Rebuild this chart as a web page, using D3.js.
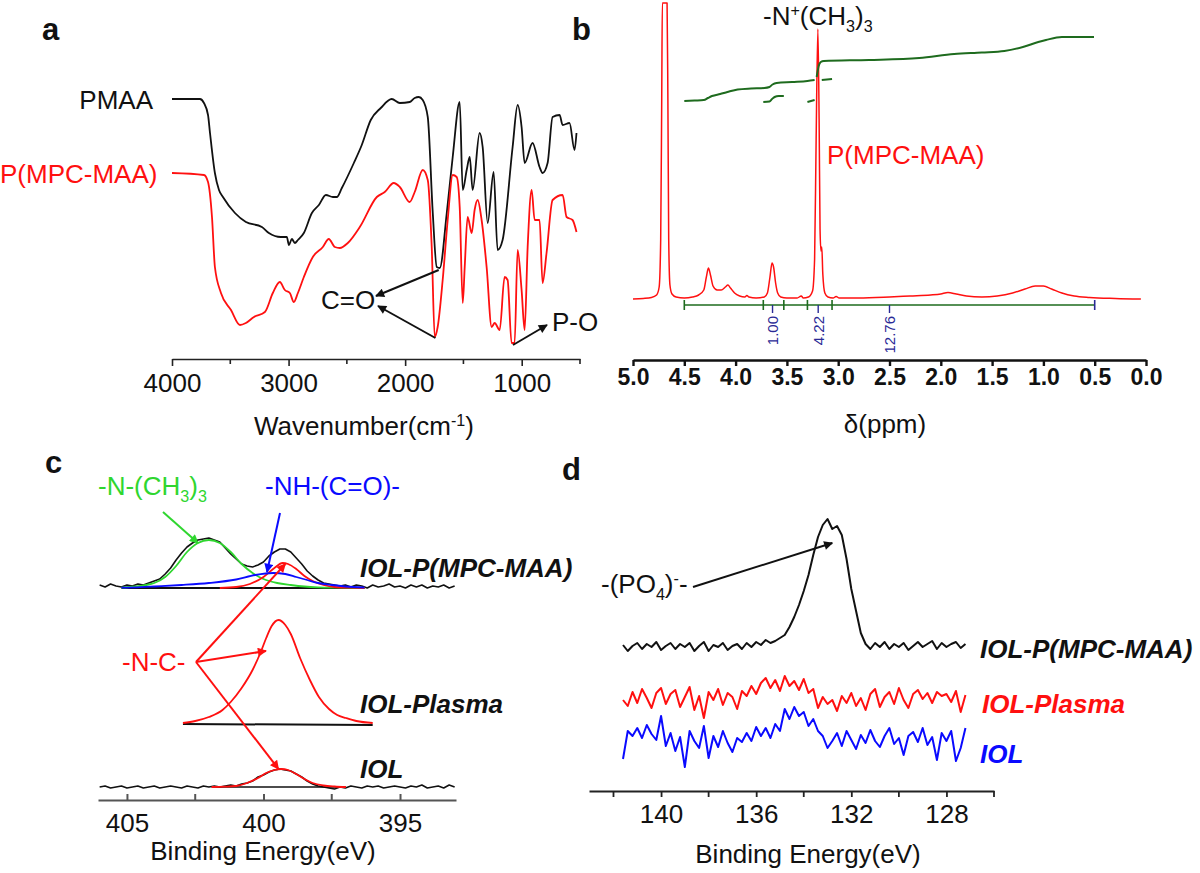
<!DOCTYPE html>
<html>
<head>
<meta charset="utf-8">
<style>
body { margin: 0; background: #fff; }
svg { display: block; background: #fff; }
</style>
</head>
<body>
<svg width="1200" height="873"></svg>
<script src="https://d3js.org/d3.v7.min.js"></script>
<script>
// ---------- data ----------

// a: FTIR, [wavenumber cm-1, transmittance a.u.]
var a_ticks = [4000, 3000, 2000, 1000],
    a_minor = [3500, 2500, 1500, 500];
var a_pmaa = [[4000,261],[3760,261],[3726,257],[3691,245],[3674,227],[3632,187],[3597,170],[3563,163],[3460,147],[3366,138],[3229,133],[3169,127],[3066,123],[3015,123],[2997,115],[2972,121],[2946,117],[2920,120],[2869,127],[2800,147],[2740,155],[2680,165],[2620,163],[2586,163],[2543,172],[2440,197],[2372,215],[2295,240],[2209,252],[2115,261],[2046,257],[1960,258],[1918,262],[1883,263],[1849,260],[1806,243],[1763,147],[1729,93],[1703,92],[1643,147],[1592,203],[1532,258],[1506,170],[1472,190],[1446,203],[1421,170],[1361,227],[1335,213],[1292,137],[1241,188],[1207,110],[1164,120],[1078,213],[1035,255],[1001,233],[975,197],[907,217],[847,193],[821,187],[778,197],[735,243],[675,245],[649,235],[590,237],[547,210],[530,227]];
var a_pmpc = [[4000,187],[3726,185],[3691,178],[3657,143],[3632,93],[3580,67],[3494,50],[3417,35],[3366,37],[3297,43],[3203,48],[3135,67],[3075,78],[3032,70],[2989,67],[2955,58],[2920,67],[2869,83],[2792,103],[2706,113],[2655,121],[2603,113],[2560,112],[2492,117],[2389,133],[2243,163],[2175,168],[2098,177],[2046,173],[1961,158],[1918,168],[1849,190],[1806,180],[1772,113],[1746,23],[1721,33],[1678,80],[1635,140],[1592,185],[1558,183],[1532,153],[1506,57],[1489,93],[1464,143],[1429,127],[1404,150],[1378,160],[1344,140],[1301,93],[1258,33],[1232,37],[1189,30],[1147,83],[1121,80],[1087,17],[1061,17],[1035,110],[1001,70],[975,30],[949,113],[915,170],[889,140],[847,140],[821,77],[787,107],[735,160],[649,165],[615,143],[564,140],[530,128]];

// b: 1H NMR, [ppm, intensity a.u.]
var b_ticks = [5.0, 4.5, 4.0, 3.5, 3.0, 2.5, 2.0, 1.5, 1.0, 0.5, 0.0];
var b_spec = [[5.00,0],[4.90,0.5],[4.82,1.5],[4.77,4],[4.745,12],[4.73,60],[4.72,200],[4.714,296],[4.668,296],[4.66,200],[4.652,60],[4.64,14],[4.62,5],[4.58,2],[4.50,1],[4.42,2],[4.36,4],[4.31,9],[4.285,22],[4.265,31],[4.245,24],[4.22,13],[4.18,9],[4.14,9],[4.10,12],[4.075,14],[4.05,11],[4.01,6],[3.96,3],[3.91,2],[3.89,3.5],[3.87,2],[3.80,1],[3.72,2],[3.69,6],[3.665,22],[3.645,36],[3.63,32],[3.61,16],[3.59,6],[3.56,2],[3.50,1],[3.40,1],[3.36,3],[3.34,1],[3.29,2],[3.25,8],[3.23,40],[3.215,160],[3.198,270],[3.186,180],[3.177,70],[3.168,48],[3.16,52],[3.15,25],[3.13,6],[3.10,2],[3.05,1],[3.02,2.5],[2.99,1],[2.80,1],[2.50,2],[2.30,3],[2.10,4],[2.00,5],[1.93,6.5],[1.85,5],[1.75,3],[1.60,2],[1.45,3],[1.30,6],[1.18,10],[1.08,13],[1.00,13],[0.92,10],[0.82,6],[0.70,3],[0.55,1.5],[0.30,0.5],[0.05,0]];
var b_int_top = [[3.21,222],[3.19,233],[3.17,237],[3.14,238],[2.70,239],[2.21,241],[1.87,245],[1.60,246.5],[1.38,248],[1.20,252],[1.05,257],[0.975,259],[0.82,262],[0.507,262]];
var b_int_mid = [[4.50,198],[4.40,198.5],[4.31,199],[4.27,201],[4.23,203],[4.15,205],[4.08,207],[3.98,209.5],[3.85,210.5],[3.72,211],[3.67,212],[3.64,214.5],[3.60,216],[3.45,217],[3.30,218],[3.23,219]];
var b_int_mid2 = [[3.16,219],[3.06,220]];
var b_int_s1 = [[3.73,197],[3.67,197.5],[3.645,200],[3.62,202],[3.58,203],[3.53,203]];
var b_int_s2 = [[3.30,197],[3.23,199]];
var b_bar_ends = [4.5, 3.73, 3.53, 3.30, 3.06],
    b_bar_last = 0.5,
    b_int_pos = [3.64, 3.195, 2.5],
    b_int_vals = ["1.00", "4.22", "12.76"];

// c: N1s XPS, [binding energy eV, counts a.u.]
var c_ticks = [405, 400, 395],
    c_minor = [402.5, 397.5];
var c_top_raw = [[406.0,1],[405.8,-1],[405.6,2],[405.4,0],[405.2,-1],[405.0,1],[404.8,0],[404.6,2],[404.4,1],[404.2,3],[404.0,5],[403.8,7],[403.6,12],[403.4,18],[403.2,26],[403.0,33],[402.8,39],[402.6,43],[402.4,46],[402.2,47],[402.0,48],[401.8,46],[401.6,44],[401.4,38],[401.2,32],[401.0,27],[400.8,22],[400.6,20],[400.4,19],[400.2,21],[400.0,24],[399.8,30],[399.6,34],[399.4,37],[399.2,37],[399.0,34],[398.8,28],[398.6,22],[398.4,15],[398.2,10],[398.0,6],[397.8,3],[397.6,2],[397.4,1],[397.2,0],[397.0,1],[396.8,-1],[396.6,1],[396.4,0],[396.2,-2],[396.0,1],[395.8,-1],[395.6,0],[395.4,2],[395.2,-1],[395.0,0],[394.8,-2],[394.6,1],[394.4,-1],[394.2,1],[394.0,-2],[393.8,0],[393.6,-1],[393.4,1],[393.2,-2],[393.0,0]];
var c_green = [[405.2,0.3],[404.7,1.5],[404.3,3],[404.0,5],[403.6,11],[403.2,22],[402.8,36],[402.4,45],[402.0,48],[401.6,45],[401.2,36],[400.8,24],[400.4,15],[400.0,9],[399.5,5],[399.0,3],[398.5,1.5],[398.0,0.7],[397.3,0.3],[396.3,0]];
var c_blue = [[405.2,0.3],[404.5,0.8],[404.0,1.5],[403.0,3],[402.0,5],[401.0,8.5],[400.3,13],[399.65,15],[399.2,14],[398.8,11],[398.4,8],[398.0,5],[397.5,3],[397.0,1.5],[396.3,0.5]];
var c_red_top = [[401.6,0],[401.0,1],[400.5,4],[400.0,11],[399.6,20],[399.3,25],[399.1,24],[398.8,19],[398.5,12],[398.2,7],[397.8,3],[397.4,1],[396.8,0.3],[396.3,0]];
var c_top_base = [[405.2,0],[396.3,0]];
var c_plasma = [[402.95,1],[402.5,3],[402.0,7],[401.5,14],[401.2,22],[400.8,36],[400.4,54],[400.1,72],[399.9,86],[399.7,98],[399.45,104],[399.2,99],[399.0,90],[398.66,66],[398.3,44],[397.97,27],[397.6,15],[397.3,9],[396.98,6],[396.6,3],[396.0,1]];
var c_plasma_base = [[402.95,0],[396.0,-1]];
var c_bot_raw = [[406.0,0],[405.8,1],[405.6,-1],[405.4,0],[405.2,1],[405.0,-1],[404.8,0],[404.6,1],[404.4,-1],[404.2,0],[404.0,1],[403.8,-1],[403.6,0],[403.4,1],[403.2,0],[403.0,-1],[402.8,1],[402.6,0],[402.4,-1],[402.2,1],[402.0,0],[401.8,1],[401.6,0],[401.4,1],[401.2,2],[401.0,1],[400.8,3],[400.6,4],[400.4,6],[400.2,10],[400.0,12],[399.8,15],[399.6,17],[399.4,18],[399.2,17],[399.0,16],[398.8,13],[398.6,10],[398.4,6],[398.2,3],[398.0,1],[397.8,0],[397.6,-1],[397.4,-2],[397.2,0],[397.0,-1],[396.8,1],[396.6,0],[396.4,-1],[396.2,1],[396.0,0],[395.8,1],[395.6,-1],[395.4,0],[395.2,1],[395.0,0],[394.8,-1],[394.6,1],[394.4,0],[394.2,2],[394.0,-1],[393.8,0],[393.6,1],[393.4,-1],[393.2,2],[393.0,0]];
var c_red_bot = [[401.9,0],[401.4,0.3],[401.0,1],[400.6,4],[400.2,9],[399.9,14],[399.6,17],[399.35,18],[399.1,17],[398.8,13],[398.5,8],[398.2,4],[397.8,1.5],[397.4,0.5],[396.98,0]];
var c_bot_base = [[401.9,0],[396.98,0]];
var c_offsets = { top: 212, raw: 214, mid: 76, bot: 13 };

// d: P2p XPS, [binding energy eV, counts a.u.]
var d_ticks = [140, 136, 132, 128],
    d_minor = [142, 138, 134, 130, 126];
var d_black = [[141.6,2],[141.4,-4],[141.2,1],[141.0,4],[140.8,-2],[140.6,3],[140.4,0],[140.2,5],[140.0,-3],[139.8,1],[139.6,4],[139.4,-2],[139.2,3],[139.0,0],[138.8,4],[138.6,-4],[138.4,1],[138.2,5],[138.0,-4],[137.8,2],[137.6,0],[137.4,4],[137.2,-3],[137.0,1],[136.8,3],[136.6,-2],[136.4,4],[136.2,0],[136.0,5],[135.8,2],[135.6,7],[135.4,4],[135.2,6],[135.0,9],[134.8,12],[134.6,20],[134.4,30],[134.2,42],[134.0,56],[133.8,72],[133.6,92],[133.4,110],[133.2,122],[133.0,128],[132.8,118],[132.6,121],[132.4,112],[132.2,88],[132.0,58],[131.8,36],[131.6,14],[131.4,3],[131.2,-2],[131.0,4],[130.8,0],[130.6,5],[130.4,-2],[130.2,3],[130.0,0],[129.8,4],[129.6,-3],[129.4,1],[129.2,5],[129.0,0],[128.8,3],[128.6,6],[128.4,-2],[128.2,4],[128.0,0],[127.8,3],[127.6,5],[127.4,-1],[127.2,3]];
var d_red = [[141.6,0],[141.4,-6],[141.2,8],[141.0,-3],[140.8,11],[140.6,2],[140.4,-8],[140.2,7],[140.0,12],[139.8,-4],[139.6,6],[139.4,10],[139.2,-7],[139.0,3],[138.8,13],[138.6,-10],[138.4,4],[138.2,-18],[138.0,8],[137.8,0],[137.6,11],[137.4,-5],[137.2,7],[137.0,3],[136.8,-9],[136.6,9],[136.4,4],[136.2,14],[136.0,6],[135.8,17],[135.6,22],[135.4,12],[135.2,20],[135.0,9],[134.8,24],[134.6,14],[134.4,19],[134.2,10],[134.0,21],[133.8,7],[133.6,11],[133.4,-8],[133.2,3],[133.0,-4],[132.8,0],[132.6,-11],[132.4,4],[132.2,-3],[132.0,7],[131.8,-6],[131.6,2],[131.4,-10],[131.2,6],[131.0,11],[130.8,-7],[130.6,3],[130.4,8],[130.2,-4],[130.0,12],[129.8,0],[129.6,-8],[129.4,6],[129.2,10],[129.0,1],[128.8,7],[128.6,-3],[128.4,8],[128.2,4],[128.0,6],[127.8,-2],[127.6,9],[127.4,-12],[127.2,5]];
var d_blue = [[141.6,-16],[141.4,12],[141.2,7],[141.0,15],[140.8,5],[140.6,18],[140.4,9],[140.2,3],[140.0,27],[139.8,-3],[139.6,10],[139.4,-8],[139.2,6],[139.0,-24],[138.8,12],[138.6,2],[138.4,-5],[138.2,17],[138.0,-15],[137.8,7],[137.6,-4],[137.4,12],[137.2,0],[137.0,-9],[136.8,5],[136.6,1],[136.4,10],[136.2,2],[136.0,16],[135.8,7],[135.6,15],[135.4,5],[135.2,19],[135.0,12],[134.8,34],[134.6,24],[134.4,36],[134.2,27],[134.0,31],[133.8,17],[133.6,24],[133.4,12],[133.2,7],[133.0,-5],[132.8,2],[132.6,10],[132.4,-3],[132.2,12],[132.0,3],[131.8,-6],[131.6,8],[131.4,0],[131.2,13],[131.0,2],[130.8,-4],[130.6,7],[130.4,15],[130.2,-1],[130.0,5],[129.8,-12],[129.6,7],[129.4,11],[129.2,1],[129.0,15],[128.8,-2],[128.6,6],[128.4,-17],[128.2,10],[128.0,2],[127.8,12],[127.6,-18],[127.4,-5],[127.2,15]];
var d_offsets = { black: 144, red: 91, blue: 48 };

// ---------- drawing ----------
var FONT = '"Liberation Sans", Arial, Helvetica, sans-serif';
var RED = "#ff1010", BLUE = "#0a0aff", GREEN = "#2fd62f", DKGREEN = "#1e6b1e", NAVY = "#2a2a96";

var svg = d3.select("svg").attr("font-family", FONT);
var defs = svg.append("defs");

function marker(id, color) {
  defs.append("marker").attr("id", id)
      .attr("viewBox", "0 0 10 10").attr("refX", 9).attr("refY", 5)
      .attr("markerWidth", 13).attr("markerHeight", 9)
      .attr("markerUnits", "userSpaceOnUse").attr("orient", "auto")
    .append("path").attr("d", "M0,0L10,5L0,10z").attr("fill", color);
}
marker("ah-black", "#111");
marker("ah-red", RED);
marker("ah-green", GREEN);
marker("ah-blue", BLUE);

function arrow(x1, y1, x2, y2, color, id) {
  svg.append("line")
      .attr("x1", x1).attr("y1", y1).attr("x2", x2).attr("y2", y2)
      .attr("stroke", color).attr("stroke-width", 2)
      .attr("marker-end", "url(#" + id + ")");
}

// text with sub/superscripts: parts are strings or [string, "sub"|"sup"]
function label(x, y, parts, o) {
  o = o || {};
  var size = o.size || 26;
  var t = svg.append("text").attr("x", x).attr("y", y)
      .attr("font-size", size).attr("fill", o.color || "#111")
      .attr("font-weight", o.weight || null).attr("font-style", o.style || null)
      .attr("text-anchor", o.anchor || "start");
  var shift = 0;
  parts.forEach(function(p) {
    var s = typeof p === "string" ? p : p[0],
        kind = typeof p === "string" ? null : p[1];
    var target = kind === "sup" ? -0.36 : kind === "sub" ? 0.26 : 0;
    var ts = t.append("tspan").text(s);
    if (target !== shift) ts.attr("dy", (target - shift) * size);
    if (kind) ts.attr("font-size", size * 0.62);
    shift = target;
  });
  return t;
}

function axis(scale, y, o) {
  var g = svg.append("g").attr("transform", "translate(0," + y + ")");
  g.call(d3.axisBottom(scale).tickValues(o.ticks).tickSize(o.tick)
      .tickSizeOuter(0).tickFormat(o.fmt));
  g.attr("font-family", FONT).attr("font-size", o.fontSize || 26);
  g.select(".domain").attr("stroke", o.color).attr("stroke-width", o.width);
  g.selectAll(".tick line").attr("stroke", o.color).attr("stroke-width", o.width);
  g.selectAll(".tick text").attr("y", o.textY).attr("dy", null)
      .attr("fill", "#111").attr("font-weight", o.bold ? "bold" : null);
  if (o.minor) {
    g.selectAll(".minor").data(o.minor).join("line").attr("class", "minor")
        .attr("x1", scale).attr("x2", scale)
        .attr("y1", 0).attr("y2", o.minorTick)
        .attr("stroke", o.color).attr("stroke-width", o.width);
  }
  return g;
}

function trace(xs, ys, data, color, width, curve, offset) {
  var off = offset || 0;
  var line = d3.line()
      .x(function(d) { return xs(d[0]); })
      .y(function(d) { return ys(d[1] + off); })
      .curve(curve || d3.curveLinear);
  svg.append("path").datum(data)
      .attr("d", line).attr("fill", "none")
      .attr("stroke", color).attr("stroke-width", width)
      .attr("stroke-linejoin", "round");
}

// panel letters
label(42, 40, ["a"], { size: 31, weight: "bold" });
label(572, 40, ["b"], { size: 31, weight: "bold" });
label(45, 473, ["c"], { size: 31, weight: "bold" });
label(562, 480, ["d"], { size: 31, weight: "bold" });

// ----- a -----
var xA = d3.scaleLinear().domain([4000, 500]).range([172, 580]);
var yA = d3.scaleLinear().domain([0, 300]).range([360, 60]);
axis(xA, 359, { ticks: a_ticks, tick: 7, minor: a_minor, minorTick: 5,
  fmt: d3.format("d"), color: "#222", width: 1.6, textY: 33 });
trace(xA, yA, a_pmaa, "#111", 1.8, d3.curveMonotoneX);
trace(xA, yA, a_pmpc, RED, 1.8, d3.curveMonotoneX);
label(153, 109, ["PMAA"], { anchor: "end" });
label(0, 183, ["P(MPC-MAA)"], { color: RED });
label(321, 309, ["C=O"]);
label(552, 331, ["P-O"]);
arrow(xA(1712), yA(90), 376, 296, "#111", "ah-black");
arrow(xA(1740), yA(22), 378, 306, "#111", "ah-black");
arrow(xA(1075), yA(15), 547, 325, "#111", "ah-black");
label(364, 435, ["Wavenumber(cm", ["-1", "sup"], ")"], { anchor: "middle" });

// ----- b -----
var xB = d3.scaleLinear().domain([5, 0]).range([633, 1146]);
var yB = d3.scaleLinear().domain([0, 299]).range([299, 0]);
axis(xB, 360, { ticks: b_ticks, tick: 6, fmt: d3.format(".1f"),
  color: "#111", width: 2.4, textY: 25, bold: true, fontSize: 23 });
trace(xB, yB, b_spec, RED, 1.5, d3.curveMonotoneX);
[b_int_top, b_int_mid, b_int_mid2, b_int_s1, b_int_s2].forEach(function(seg) {
  trace(xB, yB, seg, DKGREEN, 2, d3.curveMonotoneX);
});
// integration bar
var barY = yB(-6);
svg.append("line").attr("x1", xB(4.5)).attr("x2", xB(b_bar_last))
    .attr("y1", barY).attr("y2", barY).attr("stroke", DKGREEN).attr("stroke-width", 1.6);
b_bar_ends.forEach(function(p) {
  svg.append("line").attr("x1", xB(p)).attr("x2", xB(p))
      .attr("y1", barY - 5).attr("y2", barY + 5).attr("stroke", DKGREEN).attr("stroke-width", 1.6);
});
svg.append("line").attr("x1", xB(b_bar_last)).attr("x2", xB(b_bar_last))
    .attr("y1", barY - 5).attr("y2", barY + 5).attr("stroke", NAVY).attr("stroke-width", 1.6);
b_int_pos.forEach(function(p, i) {
  var x = xB(p);
  svg.append("line").attr("x1", x).attr("x2", x)
      .attr("y1", barY).attr("y2", barY + 8).attr("stroke", NAVY).attr("stroke-width", 1.4);
  svg.append("text").attr("x", x).attr("y", barY + 11)
      .attr("transform", "rotate(-90," + x + "," + (barY + 11) + ")")
      .attr("text-anchor", "end").attr("dy", "0.36em")
      .attr("font-size", 15).attr("fill", NAVY).text(b_int_vals[i]);
});
label(763, 25, ["-N", ["+", "sup"], "(CH", ["3", "sub"], ")", ["3", "sub"]]);
label(827, 164, ["P(MPC-MAA)"], { color: RED });
label(885, 433, ["\u03b4(ppm)"], { anchor: "middle" });

// ----- c -----
var xC = d3.scaleLinear().domain([406.06, 392.95]).range([98, 456]);
var yC = d3.scaleLinear().domain([0, 300]).range([800, 500]);
axis(xC, 800, { ticks: c_ticks, tick: -6, minor: c_minor, minorTick: -6,
  fmt: d3.format("d"), color: "#555", width: 2, textY: 32 });
trace(xC, yC, c_top_raw, "#111", 1.6, d3.curveLinear, c_offsets.raw);
trace(xC, yC, c_top_base, "#111", 1.8, d3.curveLinear, c_offsets.top);
trace(xC, yC, c_green, GREEN, 1.8, d3.curveMonotoneX, c_offsets.top);
trace(xC, yC, c_red_top, RED, 1.8, d3.curveMonotoneX, c_offsets.top);
trace(xC, yC, c_blue, BLUE, 1.8, d3.curveMonotoneX, c_offsets.top);
trace(xC, yC, c_plasma_base, "#111", 2, d3.curveLinear, c_offsets.mid);
trace(xC, yC, c_plasma, RED, 1.8, d3.curveMonotoneX, c_offsets.mid);
trace(xC, yC, c_bot_raw, "#111", 1.6, d3.curveLinear, c_offsets.bot);
trace(xC, yC, c_bot_base, "#111", 1.6, d3.curveLinear, c_offsets.bot);
trace(xC, yC, c_red_bot, RED, 1.8, d3.curveMonotoneX, c_offsets.bot);
label(360, 577, ["IOL-P(MPC-MAA)"], { weight: "bold", style: "italic" });
label(360, 713, ["IOL-Plasma"], { weight: "bold", style: "italic" });
label(360, 778, ["IOL"], { weight: "bold", style: "italic" });
label(98, 495, ["-N-(CH", ["3", "sub"], ")", ["3", "sub"]], { color: GREEN });
label(265, 495, ["-NH-(C=O)-"], { color: BLUE });
label(122, 671, ["-N-C-"], { color: RED });
arrow(163, 512, 198, 543, GREEN, "ah-green");
arrow(280, 513, 267, 572, BLUE, "ah-blue");
arrow(196, 662, xC(399.2), yC(c_offsets.top + 24), RED, "ah-red");
arrow(196, 662, 266, 651, RED, "ah-red");
arrow(196, 662, xC(399.45), yC(c_offsets.bot + 18), RED, "ah-red");
label(263, 860, ["Binding Energy(eV)"], { anchor: "middle" });

// ----- d -----
var xD = d3.scaleLinear().domain([143.03, 126.0]).range([589, 994]);
var yD = d3.scaleLinear().domain([0, 300]).range([791, 491]);
axis(xD, 791, { ticks: d_ticks, tick: 6, minor: d_minor, minorTick: 6,
  fmt: d3.format("d"), color: "#222", width: 1.8, textY: 32 });
trace(xD, yD, d_black, "#111", 2, d3.curveLinear, d_offsets.black);
trace(xD, yD, d_red, RED, 2, d3.curveLinear, d_offsets.red);
trace(xD, yD, d_blue, BLUE, 2, d3.curveLinear, d_offsets.blue);
label(980, 658, ["IOL-P(MPC-MAA)"], { weight: "bold", style: "italic" });
label(982, 713, ["IOL-Plasma"], { weight: "bold", style: "italic", color: RED });
label(980, 763, ["IOL"], { weight: "bold", style: "italic", color: BLUE });
label(601, 593, ["-(PO", ["4", "sub"], ")", ["-", "sup"], "-"]);
arrow(693, 587, xD(132.8), yD(d_offsets.black + 104), "#111", "ah-black");
label(808, 863, ["Binding Energy(eV)"], { anchor: "middle" });
</script>
</body>
</html>
